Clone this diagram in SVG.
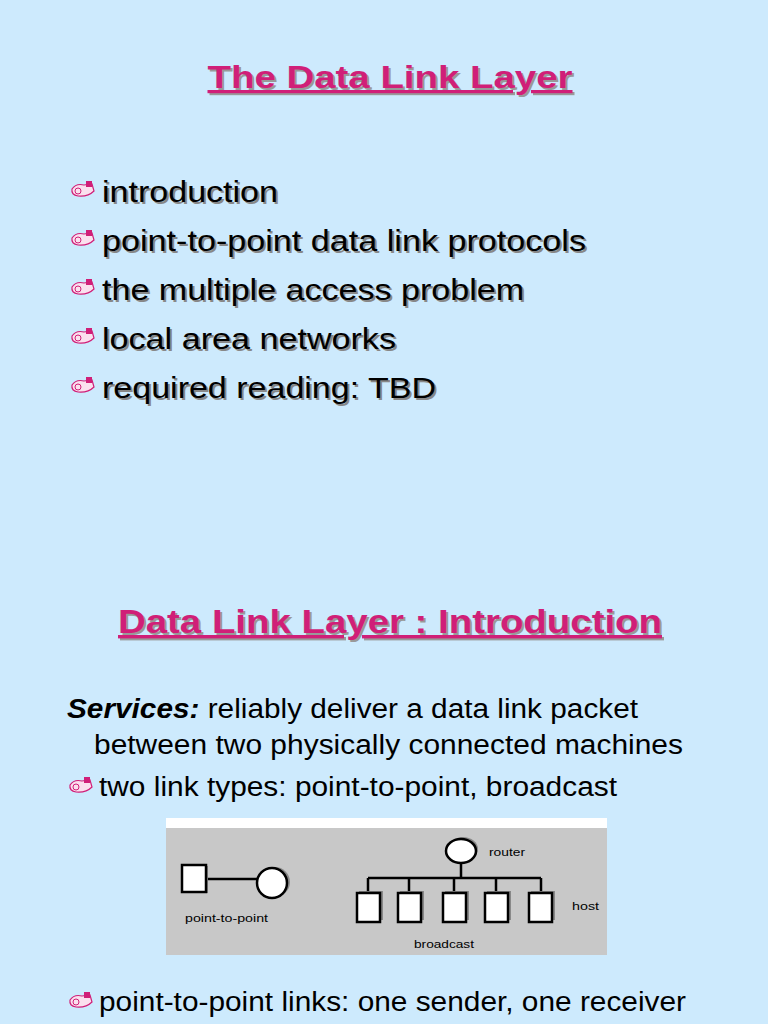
<svg xmlns="http://www.w3.org/2000/svg" width="768" height="1024" viewBox="0 0 768 1024">
<defs>
<style>
.t{font-family:"Liberation Sans",Arial,sans-serif;font-weight:bold;fill:#d01f78;text-anchor:middle;text-decoration:underline}
.b{font-family:"Liberation Sans",Arial,sans-serif;font-size:30px;fill:#000}
.s{fill:#888}
.sm{font-family:"Liberation Sans",Arial,sans-serif;font-size:11px;fill:#000}
.n{fill:#fff;stroke:#000;stroke-width:2.5}
</style>
<g id="ic">
<path d="M2,8 Q6,2 14,4 L22,3 L24,10 Q18,16 8,15 Q1,14 2,8Z" fill="#fbe0ee" stroke="#d01f78" stroke-width="1.2"/>
<path d="M16,0 L22,0 L22,6 L16,6Z" fill="#d01f78"/>
<circle cx="8" cy="10" r="3" fill="none" stroke="#d01f78"/>
</g>
</defs>
<rect width="768" height="1024" fill="#cdeafd"/>
<g id="title1"><text class="t" x="392" y="90" font-size="32" textLength="365" lengthAdjust="spacingAndGlyphs" style="fill:#999">The Data Link Layer</text><text class="t" x="390" y="88" font-size="32" textLength="365" lengthAdjust="spacingAndGlyphs">The Data Link Layer</text></g>
<g id="bullets1">
<use href="#ic" x="70" y="181"/><text class="b s" x="104" y="204" textLength="176" lengthAdjust="spacingAndGlyphs">introduction</text><text class="b" x="102" y="202" textLength="176" lengthAdjust="spacingAndGlyphs">introduction</text>
<use href="#ic" x="70" y="230"/><text class="b s" x="104" y="253" textLength="484" lengthAdjust="spacingAndGlyphs">point-to-point data link protocols</text><text class="b" x="102" y="251" textLength="484" lengthAdjust="spacingAndGlyphs">point-to-point data link protocols</text>
<use href="#ic" x="70" y="279"/><text class="b s" x="104" y="302" textLength="422" lengthAdjust="spacingAndGlyphs">the multiple access problem</text><text class="b" x="102" y="300" textLength="422" lengthAdjust="spacingAndGlyphs">the multiple access problem</text>
<use href="#ic" x="70" y="328"/><text class="b s" x="104" y="351" textLength="294" lengthAdjust="spacingAndGlyphs">local area networks</text><text class="b" x="102" y="349" textLength="294" lengthAdjust="spacingAndGlyphs">local area networks</text>
<use href="#ic" x="70" y="377"/><text class="b s" x="104" y="400" textLength="334" lengthAdjust="spacingAndGlyphs">required reading: TBD</text><text class="b" x="102" y="398" textLength="334" lengthAdjust="spacingAndGlyphs">required reading: TBD</text>
</g>
<g id="title2"><text class="t" x="392" y="635" font-size="34" textLength="544" lengthAdjust="spacingAndGlyphs" style="fill:#999">Data Link Layer : Introduction</text><text class="t" x="390" y="633" font-size="34" textLength="544" lengthAdjust="spacingAndGlyphs">Data Link Layer : Introduction</text></g>
<g id="text2" font-family="Liberation Sans,Arial,sans-serif" font-size="27">
<text x="67" y="718" textLength="571" lengthAdjust="spacingAndGlyphs"><tspan font-weight="bold" font-style="italic">Services:</tspan> reliably deliver a data link packet</text>
<text x="94" y="754" textLength="589" lengthAdjust="spacingAndGlyphs">between two physically connected machines</text>
<use href="#ic" x="68" y="777"/><text x="99" y="796" textLength="518" lengthAdjust="spacingAndGlyphs">two link types: point-to-point, broadcast</text>
<use href="#ic" x="68" y="992"/><text x="99" y="1011" textLength="587" lengthAdjust="spacingAndGlyphs">point-to-point links: one sender, one receiver</text>
</g>
<g id="figure">
<rect x="166" y="818" width="441" height="137" fill="#c8c8c8"/>
<rect x="166" y="818" width="441" height="10" fill="#fff"/>
<g id="connectors" stroke="#000" stroke-width="2.5" fill="none">
<line x1="206" y1="879" x2="258" y2="879"/>
<line x1="461" y1="863" x2="461" y2="878"/>
<line x1="368" y1="878" x2="541" y2="878"/>
<line x1="368" y1="878" x2="368" y2="893"/><line x1="409" y1="878" x2="409" y2="893"/><line x1="454" y1="878" x2="454" y2="893"/><line x1="496" y1="878" x2="496" y2="893"/><line x1="541" y1="878" x2="541" y2="893"/>
</g>
<g id="p2p-host"><rect x="184" y="866" width="24" height="27" fill="#888"/><rect class="n" x="182" y="865" width="24" height="27"/></g>
<g id="p2p-router"><ellipse cx="275" cy="882" rx="15" ry="15" fill="#888"/><ellipse class="n" cx="272" cy="883" rx="15" ry="15"/></g>
<g id="router"><ellipse cx="463" cy="849" rx="15" ry="12" fill="#888"/><ellipse class="n" cx="461" cy="851" rx="15" ry="12"/></g>
<g id="hosts">
<rect x="359" y="891" width="24" height="29" fill="#888"/><rect class="n" x="357" y="893" width="23" height="29"/>
<rect x="400" y="891" width="24" height="29" fill="#888"/><rect class="n" x="398" y="893" width="23" height="29"/>
<rect x="445" y="891" width="24" height="29" fill="#888"/><rect class="n" x="443" y="893" width="23" height="29"/>
<rect x="487" y="891" width="24" height="29" fill="#888"/><rect class="n" x="485" y="893" width="23" height="29"/>
<rect x="531" y="891" width="24" height="29" fill="#888"/><rect class="n" x="529" y="893" width="23" height="29"/>
</g>
<text class="sm" x="489" y="856" textLength="36" lengthAdjust="spacingAndGlyphs">router</text>
<text class="sm" x="572" y="910" textLength="27" lengthAdjust="spacingAndGlyphs">host</text>
<text class="sm" x="185" y="922" textLength="83" lengthAdjust="spacingAndGlyphs">point-to-point</text>
<text class="sm" x="414" y="948" textLength="60" lengthAdjust="spacingAndGlyphs">broadcast</text>
</g>
</svg>
